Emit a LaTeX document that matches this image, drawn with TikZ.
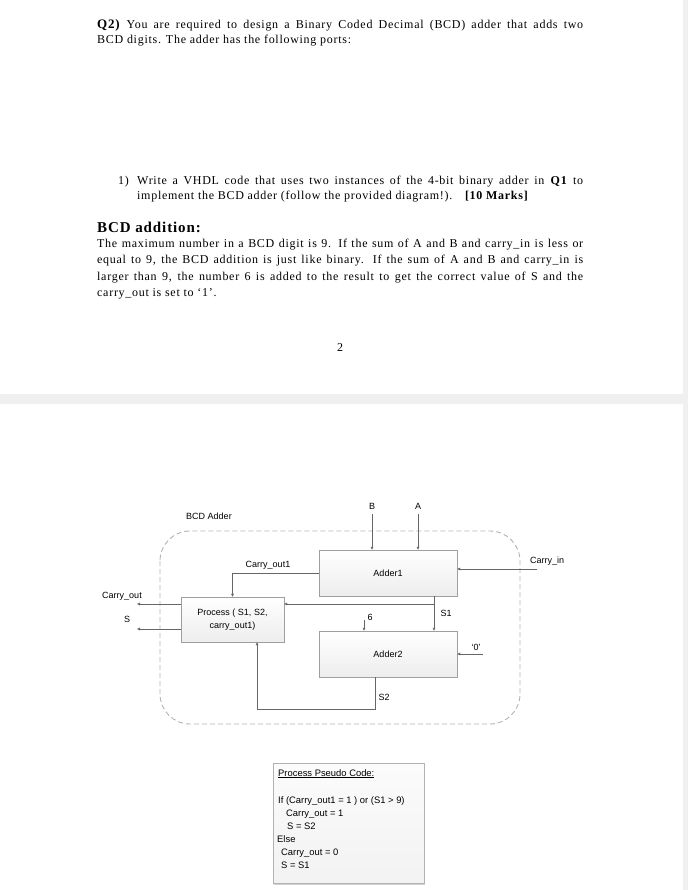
\documentclass[tikz,border=0pt]{standalone}
\usepackage{fontspec}
\setmainfont{Liberation Serif}[LetterSpace=6]
\newfontfamily\diagfont{Liberation Sans}
\usepackage{tikz}
\usetikzlibrary{arrows.meta,shadows}

\tikzset{
  txt/.style={anchor=base west, inner sep=0pt, font={\fontsize{12}{14}\selectfont}, black},
  lbl/.style={inner sep=0pt, font={\diagfont\fontsize{9}{10}\selectfont}, black},
  codeline/.style={lbl, anchor=base west, font={\diagfont\fontsize{9.4}{10}\selectfont}},
  blk/.style={draw=gray!75, top color=white, bottom color=gray!14, inner sep=0pt,
              font={\diagfont\fontsize{9}{10}\selectfont}},
  sig/.style={draw=gray!80!black, -{Latex[length=3pt,width=3pt]}},
}

\begin{document}
\begin{tikzpicture}[x=1pt, y=-1pt]
        \useasboundingbox (0,0) rectangle (688,890);
        % page edges
        \fill[gray!12] (0,394) rectangle (688,404);
        \fill[gray!12] (683,0) rectangle (688,890);

        % question text
        \node[txt] (q1) at (97,29) {\makebox[486pt][s]{\textbf{\fontsize{13}{14}\selectfont Q2)} You are required to design a Binary Coded Decimal (BCD) adder that adds two}};
        \node[txt] (q2) at (97,44) {BCD digits. The adder has the following ports:};
        \node[txt] (p1) at (118,185) {1)};
        \node[txt] (p2) at (137,185) {\makebox[446pt][s]{Write a VHDL code that uses two instances of the 4-bit binary adder in \textbf{Q1} to}};
        \node[txt] (p3) at (137,200) {implement the BCD adder (follow the provided diagram!).\quad \textbf{[10 Marks]}};
        \node[txt, font={\fontsize{15}{16}\selectfont\bfseries}] (hd) at (97,233) {BCD addition:};
        \node[txt] (b1) at (97,248) {\makebox[486pt][s]{The maximum number in a BCD digit is 9. If the sum of A and B and carry\_in is less or}};
        \node[txt] (b2) at (97,264) {\makebox[486pt][s]{equal to 9, the BCD addition is just like binary. If the sum of A and B and carry\_in is}};
        \node[txt] (b3) at (97,280) {\makebox[486pt][s]{larger than 9, the number 6 is added to the result to get the correct value of S and the}};
        \node[txt] (b4) at (97,296) {carry\_out is set to `1'.};
        \node[txt] (pg) at (337,351) {2};

        % diagram
        \draw[gray!60, line width=0.9pt, dash pattern=on 5pt off 3pt, rounded corners=30pt] (160,531) rectangle (520,724);
        \node[lbl] (title) at (209,516) {BCD Adder};

        \node[blk, minimum width=138, minimum height=46] (adder1) at (388,573) {Adder1};
        \node[blk, minimum width=138, minimum height=46] (adder2) at (388,654) {Adder2};
        \node[blk, minimum width=103, minimum height=45, align=center] (proc) at (232.5,619.5) {Process ( S1, S2,\\[3pt] carry\_out1)};

        \node[lbl] (lblB) at (372,506) {B};
        \node[lbl] (lblA) at (418,506) {A};
        \draw[sig] ([yshift=-5pt]lblB.south) -- (lblB.south |- adder1.north);
        \draw[sig] ([yshift=-5pt]lblA.south) -- (lblA.south |- adder1.north);

        \node[lbl] (cin) at (547,561) {Carry\_in};
        \coordinate (cinend) at (537,569);
        \draw[sig] (cinend) -- (cinend -| adder1.east);

        \node[lbl] (cout1) at (268,565) {Carry\_out1};
        \draw[sig] (adder1.west) -| (proc.north);

        \coordinate (s1src) at (434,596);
        \coordinate (s1split) at (434,604);
        \draw[sig] (s1src) -- (s1src |- adder2.north);
        \draw[sig] (s1split) -- (s1split -| proc.east);
        \node[lbl] (lblS1) at (446,613) {S1};

        \node[lbl] (six) at (370,617) {6};
        \coordinate (sixin) at (364,620);
        \draw[sig] (sixin) -- (sixin |- adder2.north);

        \node[lbl] (zero) at (476,647) {‘0’};
        \coordinate (zin) at (483,654);
        \draw[sig] (zin) -- (zin -| adder2.east);

        \coordinate (s2src) at (375,677);
        \coordinate (s2turn) at (257,709);
        \draw[sig] (s2src) |- (s2turn) -- (s2turn |- proc.south);
        \node[lbl] (lblS2) at (384,697) {S2};

        \coordinate (coend) at (137,604);
        \coordinate (send) at (137,629);
        \draw[sig] (proc.west |- coend) -- (coend);
        \draw[sig] (proc.west |- send) -- (send);
        \node[lbl] (lblco) at (122,596) {Carry\_out};
        \node[lbl] (lblS) at (127,619) {S};

        % pseudo code
        \node[draw=gray!60, top color=gray!3, bottom color=gray!10, minimum width=151, minimum height=120,
              drop shadow={shadow xshift=0.5pt, shadow yshift=-1.5pt, fill=gray!70}] (code) at (348.5,823) {};
        \node[codeline] (c0) at (278,776) {\underline{Process Pseudo Code:}};
        \node[codeline] (c1) at (278,803) {If (Carry\_out1 = 1 ) or (S1 > 9)};
        \node[codeline] (c2) at (286,816) {Carry\_out = 1};
        \node[codeline] (c3) at (287,829) {S = S2};
        \node[codeline] (c4) at (277,842) {Else};
        \node[codeline] (c5) at (281,855) {Carry\_out = 0};
        \node[codeline] (c6) at (281,868) {S = S1};
\end{tikzpicture}
\end{document}
